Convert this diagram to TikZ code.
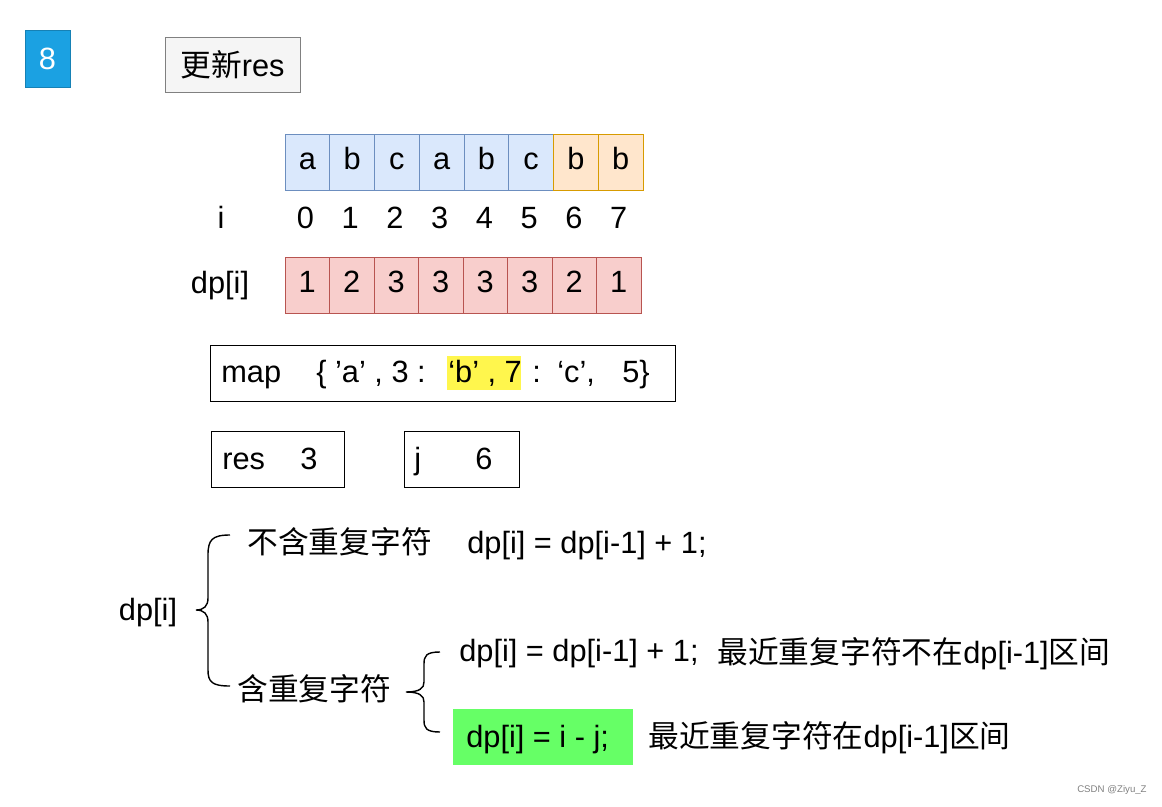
\documentclass[tikz,border=0pt]{standalone}
\usepackage{fontspec}
\setmainfont{Liberation Sans}
\newfontfamily\cjk{Noto Sans CJK SC}
\definecolor{bf}{HTML}{DAE8FC}\definecolor{bs}{HTML}{6C8EBF}
\definecolor{of}{HTML}{FFE6CC}\definecolor{os}{HTML}{D79B00}
\definecolor{rf}{HTML}{F8CECC}\definecolor{rs}{HTML}{B85450}
\definecolor{blu}{HTML}{1BA1E2}\definecolor{grn}{HTML}{66FF66}
\begin{document}
\begin{tikzpicture}[x=0.02cm,y=-0.02cm,
  F/.style={font=\fontsize{17.5}{20}\selectfont},
  t/.style={F,inner sep=0pt,text height=0.42cm,text depth=0.1cm},
  cell/.style={F,minimum width=0.895cm,minimum height=1.12cm,inner sep=0pt,text height=0.42cm,text depth=0.1cm},
  cellb/.style={cell,draw=bs,fill=bf},
  cello/.style={cell,draw=os,fill=of},
  cellr/.style={cell,draw=rs,fill=rf,minimum width=0.89cm}]
\useasboundingbox (0,0) rectangle (1162,807);
\node[fill=blu,draw=blu!80!black,minimum width=0.9cm,minimum height=1.14cm,text=white,F] (n8) at (47.5,58.5) {8};
\node[fill=gray!8,draw=gray,minimum width=2.7cm,minimum height=1.1cm,F] (up) at (232.5,64.5) {{\cjk 更新}res};
\foreach \c [count=\k from 0] in {a,b,c,a,b,c}{
  \node[cellb] (s\k) at (307.4+44.75*\k,162) {\c};}
\node[cello] (s6) at (307.4+44.75*6,162) {b};
\node[cello] (s7) at (307.4+44.75*7,162) {b};
\node[t] (il) at (221,221) {i};
\foreach \k in {0,...,7}{\node[t] (d\k) at (307.4+44.75*\k-2,221) {\k};}
\node[t] (dl) at (220,286) {dp[i]};
\foreach \v [count=\k from 0] in {1,2,3,3,3,3,2,1}{
  \node[cellr] (r\k) at (307.2+44.5*\k,285) {\v};}
\node[draw=black,minimum width=9.3cm,minimum height=1.12cm] (map) at (442.5,373) {};
\fill[yellow!70] (447,356) rectangle (521,390);
\node[t,anchor=west] (m1) at (221,375) {map};
\node[t,anchor=west] (m2) at (316,375) {\{ {\char39}a{\char39} , 3 :};
\node[t,anchor=west] (m3) at (448,375) {‘b’ , 7};
\node[t,anchor=west] (m4) at (532,375) {:};
\node[t,anchor=west] (m5) at (557,375) {‘c’,};
\node[t,anchor=west] (m6) at (622,375) {5\}};
\node[draw=black,minimum width=2.66cm,minimum height=1.12cm] (res) at (277.5,459) {};
\node[t,anchor=west] (rt) at (222,461) {res};
\node[t] (rv) at (309,461) {3};
\node[draw=black,minimum width=2.3cm,minimum height=1.12cm] (jb) at (461.5,459) {};
\node[t,anchor=west] (jt) at (414,461) {j};
\node[t] (jv) at (484,461) {6};
\node[t] (dp) at (148,612) {dp[i]};
\draw[thick] (230,535) .. controls (212,535) and (208,540) .. (208,555) -- (208,598) .. controls (208,606) and (204,610) .. (196,610) .. controls (204,610) and (208,614) .. (208,622) -- (208,670) .. controls (208,682) and (212,686) .. (230,686);
\node[t,anchor=west] (c1) at (247,545) {\cjk 不含重复字符};
\node[t,anchor=west] (f1) at (467,545) {dp[i] = dp[i-1] + 1;};
\node[t,anchor=west] (c2) at (237,692) {\cjk 含重复字符};
\draw[thick] (440,652) .. controls (426,652) and (424,656) .. (424,664) -- (424,682) .. controls (424,688) and (420,692) .. (406,692) .. controls (420,692) and (424,696) .. (424,702) -- (424,720) .. controls (424,728) and (426,732) .. (440,732);
\node[t,anchor=west] (f2) at (459,653) {dp[i] = dp[i-1] + 1;};
\node[t,anchor=west] (e2) at (717,655) {{\cjk 最近重复字符不在}dp[i-1]{\cjk 区间}};
\node[fill=grn,minimum width=3.6cm,minimum height=1.12cm] (g) at (543,737) {};
\node[t,anchor=west] (f3) at (466,739) {dp[i] = i - j;};
\node[t,anchor=west] (e3) at (648,739) {{\cjk 最近重复字符在}dp[i-1]{\cjk 区间}};
\node[anchor=east,text=gray,font=\fontsize{5.5}{6}\selectfont,inner sep=0pt] (wm) at (1147,790) {CSDN @Ziyu\_Z};
\end{tikzpicture}
\end{document}
